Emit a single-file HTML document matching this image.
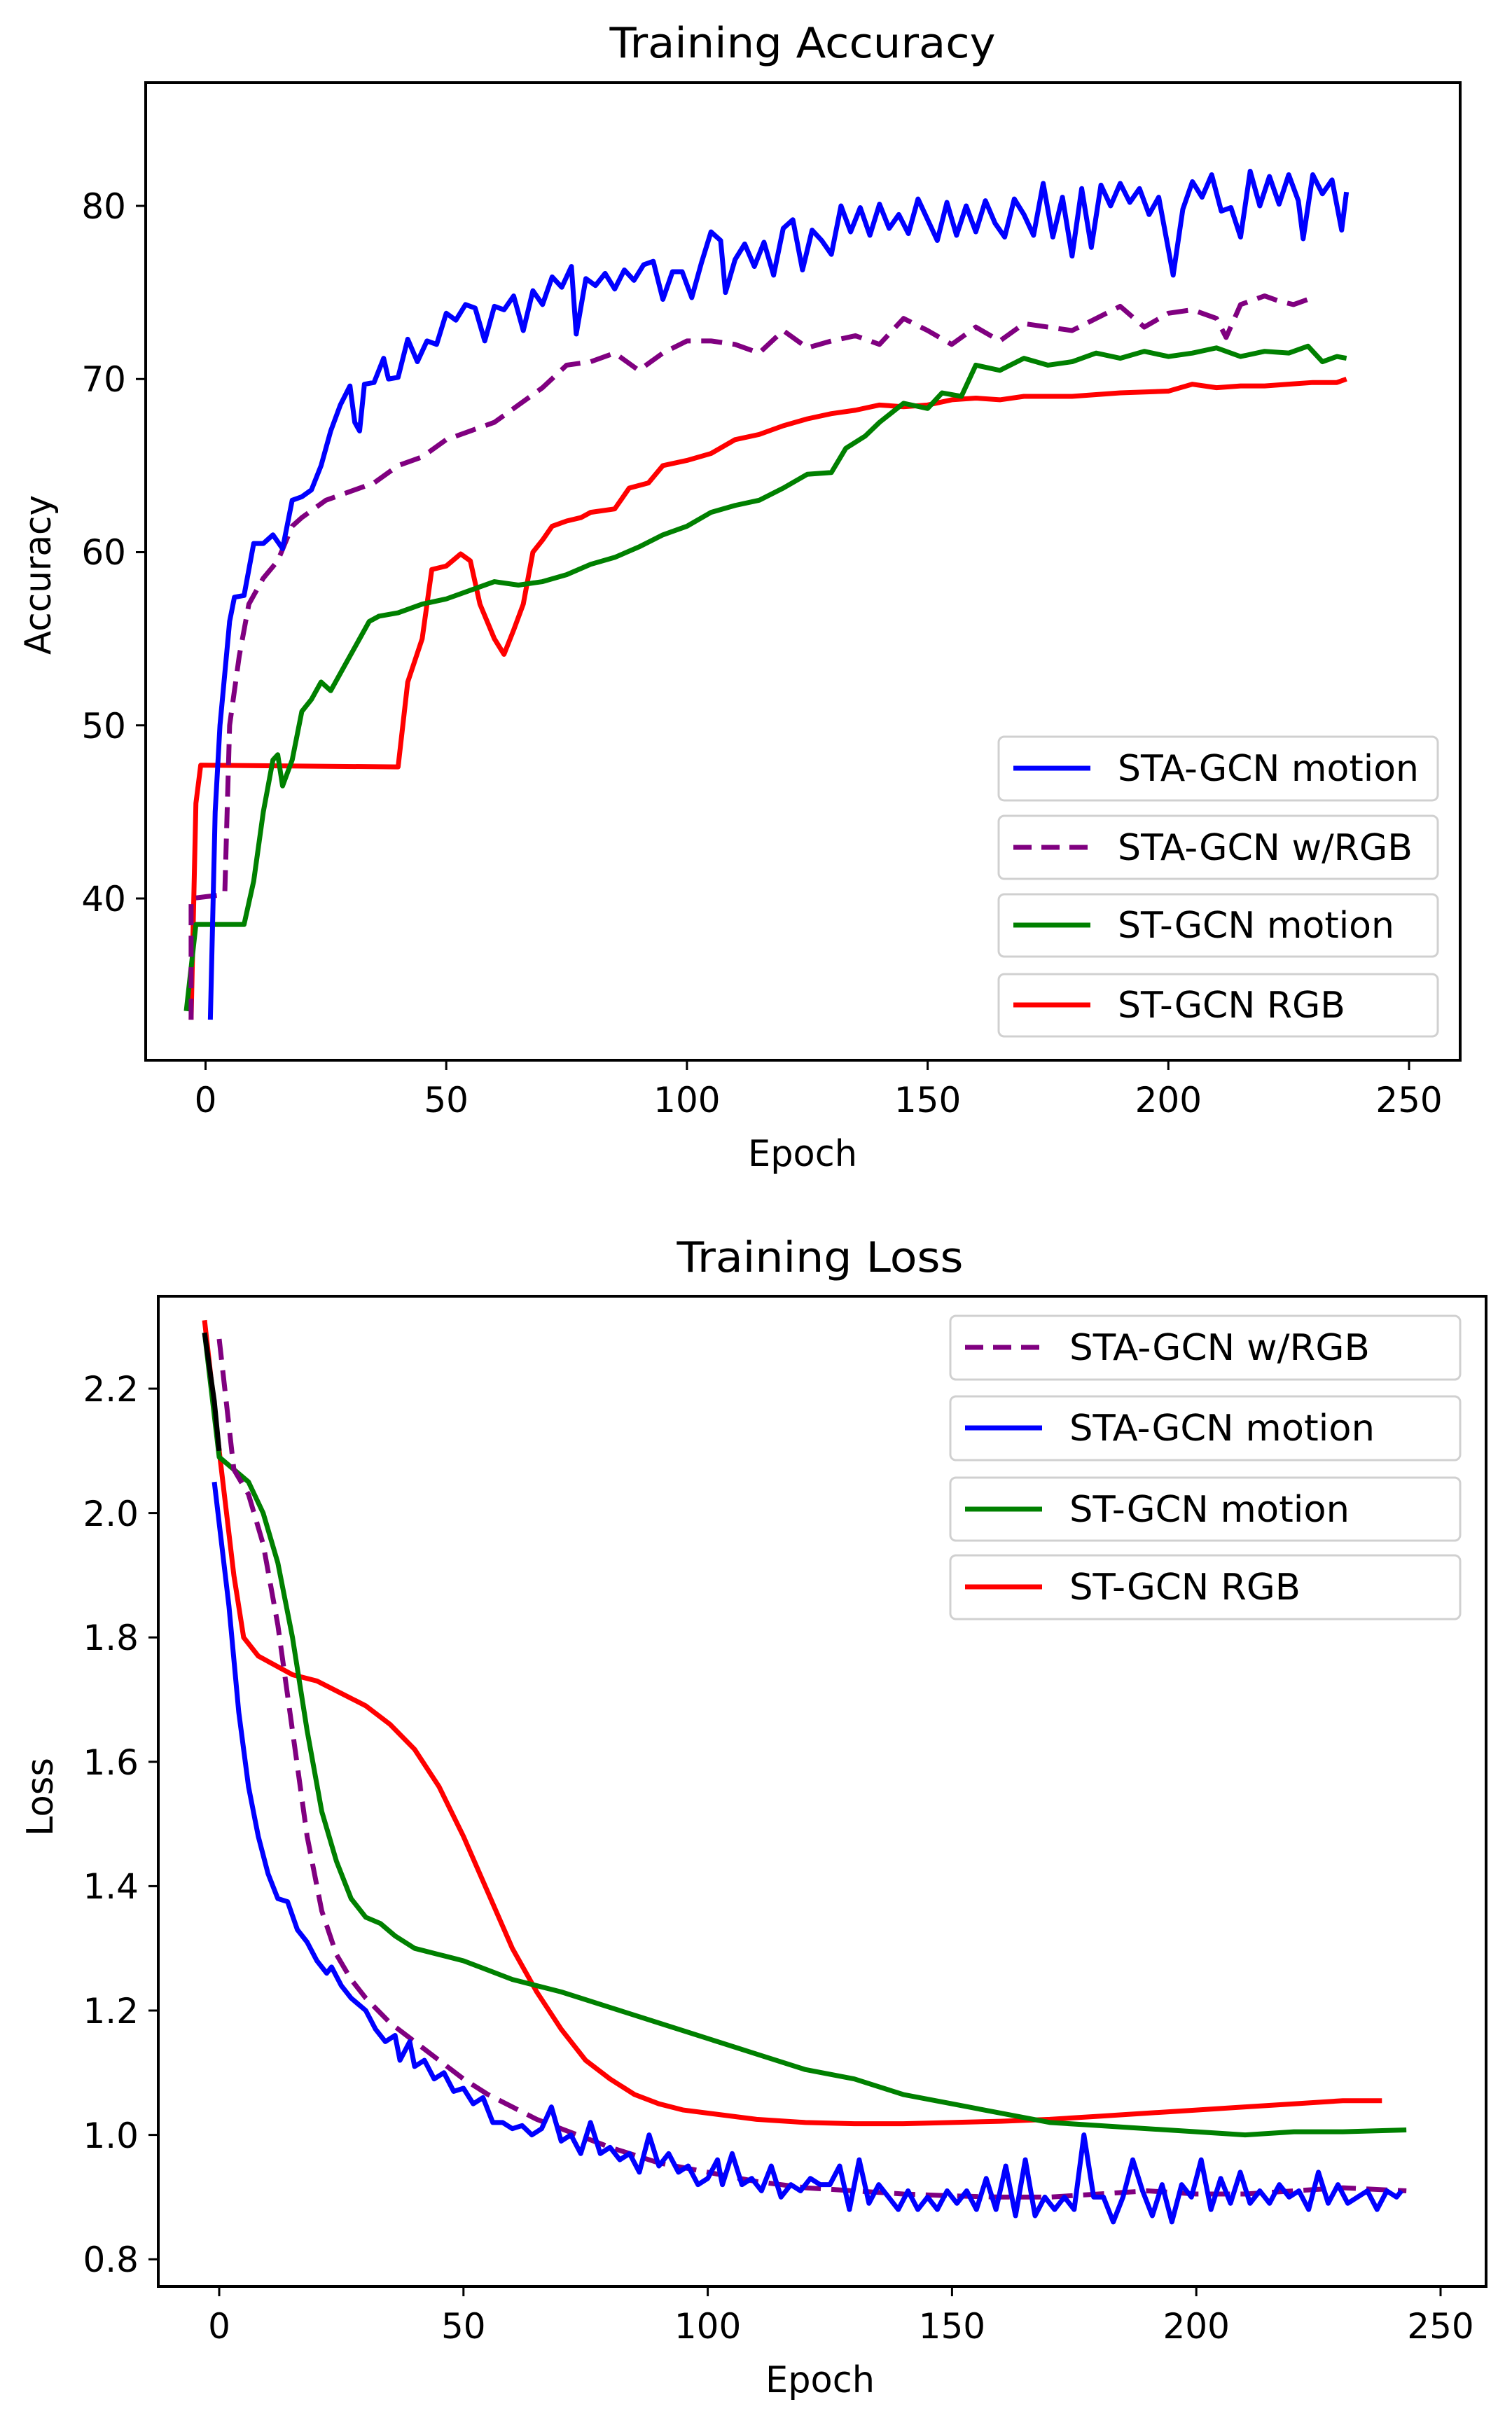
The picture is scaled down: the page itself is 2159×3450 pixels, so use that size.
<!DOCTYPE html>
<html><head><meta charset="utf-8"><style>html,body{margin:0;padding:0;background:#fff}svg{display:block}text{font-family:"DejaVu Sans","Liberation Sans",sans-serif;fill:#000}</style></head>
<body>
<svg width="2159" height="3450" viewBox="0 0 2159 3450" xmlns="http://www.w3.org/2000/svg">
<rect width="2159" height="3450" fill="#fff"/>
<!-- TOP CHART -->
<text x="1146" y="82" font-size="60" text-anchor="middle" textLength="551" lengthAdjust="spacingAndGlyphs">Training Accuracy</text>
<g fill="none" stroke-linejoin="round" stroke-linecap="butt">
<g transform="matrix(6.874 0 0 -24.725 293.5 2272)">
<polyline vector-effect="non-scaling-stroke" stroke="#ff0000" stroke-width="7" points="-3,33 -2,45.5 -1,47.7 40,47.6 42,52.5 45,55 47,59 50,59.2 53,59.9 55,59.5 57,57 60,55 62,54.1 64,55.5 66,57 68,60 70,60.7 72,61.5 75,61.8 78,62 80,62.3 85,62.5 88,63.7 92,64 95,65 100,65.3 105,65.7 110,66.5 115,66.8 120,67.3 125,67.7 130,68 135,68.2 140,68.5 145,68.4 150,68.5 155,68.8 160,68.9 165,68.8 170,69 180,69 190,69.2 200,69.3 205,69.7 210,69.5 215,69.6 220,69.6 225,69.7 230,69.8 235,69.8 237,70"/>
<polyline vector-effect="non-scaling-stroke" stroke="#008000" stroke-width="7" points="-4,33.5 -2,38.5 0,38.5 8,38.5 10,41 12,45 14,48 15,48.3 16,46.5 18,48 20,50.8 22,51.5 24,52.5 26,52 28,53 30,54 32,55 34,56 36,56.3 40,56.5 45,57 50,57.3 55,57.8 60,58.3 65,58.1 70,58.3 75,58.7 80,59.3 85,59.7 90,60.3 95,61 100,61.5 105,62.3 110,62.7 115,63 120,63.7 125,64.5 130,64.6 133,66 137,66.7 140,67.5 145,68.6 150,68.3 153,69.2 157,69 160,70.8 165,70.5 170,71.2 175,70.8 180,71 185,71.5 190,71.2 195,71.6 200,71.3 205,71.5 210,71.8 215,71.3 220,71.6 225,71.5 229,71.9 232,71 235,71.3 237,71.2"/>
<polyline vector-effect="non-scaling-stroke" stroke="#800080" stroke-width="7" stroke-dasharray="30 15" points="-3,33 -3,40 0,40.1 3,40.2 4,40.3 5,50 7,54 9,57 12,58.5 15,59.5 18,61.5 20,62 25,63 30,63.5 35,64 40,65 45,65.5 50,66.5 55,67 60,67.5 65,68.5 70,69.5 75,70.8 80,71 85,71.5 90,70.5 95,71.5 100,72.2 105,72.2 110,72 115,71.5 120,72.8 125,71.8 130,72.2 135,72.5 140,72 145,73.5 150,72.8 155,72 160,73 165,72.2 170,73.2 175,73 180,72.8 185,73.5 190,74.2 195,73 200,73.8 205,74 210,73.5 212,72.4 215,74.3 220,74.8 223,74.5 226,74.3 229,74.6"/>
<polyline vector-effect="non-scaling-stroke" stroke="#0000ff" stroke-width="7" points="1,33 2,45 3,50 4,53 5,56 6,57.4 8,57.5 10,60.5 12,60.5 14,61 16,60.2 18,63 20,63.2 22,63.6 24,65 26,67 28,68.5 30,69.6 31,67.5 32,67 33,69.7 35,69.8 37,71.2 38,70 40,70.1 42,72.3 44,71 46,72.2 48,72 50,73.8 52,73.4 54,74.3 56,74.1 58,72.2 60,74.2 62,74 64,74.8 66,72.8 68,75.1 70,74.3 72,75.9 74,75.3 76,76.5 77,72.6 79,75.8 81,75.4 83,76.1 85,75.2 87,76.3 89,75.7 91,76.6 93,76.8 95,74.6 97,76.2 99,76.2 101,74.7 103,76.7 105,78.5 107,78 108,75 110,76.9 112,77.8 114,76.5 116,77.9 118,76 120,78.7 122,79.2 124,76.3 126,78.6 128,78 130,77.2 132,80 134,78.5 136,79.9 138,78.3 140,80.1 142,78.7 144,79.5 146,78.4 148,80.4 150,79.2 152,78 154,80.2 156,78.3 158,80 160,78.5 162,80.3 164,79 166,78.2 168,80.4 170,79.5 172,78.3 174,81.3 176,78.2 178,80.5 180,77.1 182,81 184,77.6 186,81.2 188,80 190,81.3 192,80.2 194,81 196,79.5 198,80.5 200,77.5 201,76 203,79.8 205,81.4 207,80.5 209,81.8 211,79.7 213,79.9 215,78.2 217,82 219,80 221,81.7 223,80.1 225,81.8 227,80.3 228,78.1 230,81.8 232,80.7 234,81.5 236,78.6 237,80.8"/>
</g>
</g>
<rect x="208" y="118" width="1877" height="1396" fill="none" stroke="#000" stroke-width="4"/>
<g stroke="#000" stroke-width="3">
<line x1="293.5" y1="1514" x2="293.5" y2="1528"/><line x1="637.2" y1="1514" x2="637.2" y2="1528"/><line x1="980.9" y1="1514" x2="980.9" y2="1528"/><line x1="1324.6" y1="1514" x2="1324.6" y2="1528"/><line x1="1668.3" y1="1514" x2="1668.3" y2="1528"/><line x1="2012" y1="1514" x2="2012" y2="1528"/>
<line x1="194" y1="294" x2="208" y2="294"/><line x1="194" y1="541.25" x2="208" y2="541.25"/><line x1="194" y1="788.5" x2="208" y2="788.5"/><line x1="194" y1="1035.75" x2="208" y2="1035.75"/><line x1="194" y1="1283" x2="208" y2="1283"/>
</g>
<g font-size="50" text-anchor="middle">
<text x="293.5" y="1588">0</text><text x="637.2" y="1588">50</text><text x="980.9" y="1588">100</text><text x="1324.6" y="1588">150</text><text x="1668.3" y="1588">200</text><text x="2012" y="1588">250</text>
</g>
<g font-size="50" text-anchor="end">
<text x="180" y="312">80</text><text x="180" y="559">70</text><text x="180" y="806">60</text><text x="180" y="1054">50</text><text x="180" y="1301">40</text>
</g>
<text x="1146" y="1665" font-size="52" text-anchor="middle" textLength="156" lengthAdjust="spacingAndGlyphs">Epoch</text>
<text transform="translate(72,821) rotate(-90)" font-size="52" text-anchor="middle" textLength="228" lengthAdjust="spacingAndGlyphs">Accuracy</text>
<g fill="#fff" stroke="#d0d0d0" stroke-width="3">
<rect x="1426" y="1052" width="627" height="91" rx="8"/><rect x="1426" y="1165" width="627" height="90" rx="8"/><rect x="1426" y="1277" width="627" height="89" rx="8"/><rect x="1426" y="1391" width="627" height="89" rx="8"/>
</g>
<g stroke-width="7">
<line x1="1447" y1="1097" x2="1557" y2="1097" stroke="#0000ff"/>
<line x1="1447" y1="1210" x2="1557" y2="1210" stroke="#800080" stroke-dasharray="26 14"/>
<line x1="1447" y1="1321" x2="1557" y2="1321" stroke="#008000"/>
<line x1="1447" y1="1435" x2="1557" y2="1435" stroke="#ff0000"/>
</g>
<g font-size="52">
<text x="1596" y="1115" textLength="430" lengthAdjust="spacingAndGlyphs">STA-GCN motion</text>
<text x="1596" y="1228" textLength="421" lengthAdjust="spacingAndGlyphs">STA-GCN w/RGB</text>
<text x="1596" y="1339" textLength="395" lengthAdjust="spacingAndGlyphs">ST-GCN motion</text>
<text x="1596" y="1453" textLength="325" lengthAdjust="spacingAndGlyphs">ST-GCN RGB</text>
</g>

<!-- BOTTOM CHART -->
<text x="1171" y="1816" font-size="60" text-anchor="middle" textLength="409" lengthAdjust="spacingAndGlyphs">Training Loss</text>
<g fill="none" stroke-linejoin="round">
<g transform="matrix(6.976 0 0 -888 313 3936.6)">
<polyline vector-effect="non-scaling-stroke" stroke="#ff0000" stroke-width="7" points="-3,2.31 0,2.1 3,1.9 5,1.8 8,1.77 15,1.74 20,1.73 25,1.71 30,1.69 35,1.66 40,1.62 45,1.56 50,1.48 55,1.39 60,1.3 65,1.23 70,1.17 75,1.12 80,1.09 85,1.065 90,1.05 95,1.04 100,1.035 110,1.025 120,1.02 130,1.018 140,1.018 150,1.02 160,1.022 170,1.025 180,1.03 190,1.035 200,1.04 210,1.045 220,1.05 230,1.055 238,1.055"/>
<polyline vector-effect="non-scaling-stroke" stroke="#008000" stroke-width="7" points="-3,2.29 0,2.09 3,2.07 6,2.05 9,2 12,1.92 15,1.8 18,1.65 21,1.52 24,1.44 27,1.38 30,1.35 33,1.34 36,1.32 40,1.3 45,1.29 50,1.28 55,1.265 60,1.25 70,1.23 80,1.205 90,1.18 100,1.155 110,1.13 120,1.105 130,1.09 140,1.065 150,1.05 160,1.035 170,1.02 180,1.015 190,1.01 200,1.005 210,1 220,1.005 230,1.005 243,1.008"/>
<polyline vector-effect="non-scaling-stroke" stroke="#000" stroke-width="7" points="-3,2.29 -1,2.18 0,2.1"/>
<polyline vector-effect="non-scaling-stroke" stroke="#800080" stroke-width="7" stroke-dasharray="30 15" points="0,2.28 3,2.07 6,2.03 9,1.95 12,1.82 15,1.65 18,1.48 21,1.36 24,1.29 27,1.25 30,1.22 35,1.18 40,1.15 45,1.12 50,1.09 55,1.065 60,1.045 65,1.025 70,1.01 80,0.98 90,0.955 100,0.94 110,0.925 120,0.915 130,0.91 140,0.905 150,0.902 160,0.9 170,0.9 180,0.905 190,0.91 200,0.905 210,0.905 220,0.91 230,0.915 243,0.91"/>
<polyline vector-effect="non-scaling-stroke" stroke="#0000ff" stroke-width="7" points="-1,2.05 2,1.85 4,1.68 6,1.56 8,1.48 10,1.42 12,1.38 14,1.375 16,1.33 18,1.31 20,1.28 22,1.26 23,1.27 25,1.24 27,1.22 30,1.2 32,1.17 34,1.15 36,1.16 37,1.12 39,1.15 40,1.11 42,1.12 44,1.09 46,1.1 48,1.07 50,1.075 52,1.05 54,1.06 56,1.02 58,1.02 60,1.01 62,1.015 64,1 66,1.01 68,1.045 70,0.99 72,1 74,0.97 76,1.02 78,0.97 80,0.98 82,0.96 84,0.97 86,0.94 88,1 90,0.95 92,0.97 94,0.94 96,0.95 98,0.92 100,0.93 102,0.96 103,0.92 105,0.97 107,0.92 109,0.93 111,0.91 113,0.95 115,0.9 117,0.92 119,0.91 121,0.93 123,0.92 125,0.92 127,0.95 129,0.88 131,0.96 133,0.89 135,0.92 137,0.9 139,0.88 141,0.91 143,0.88 145,0.9 147,0.88 149,0.91 151,0.89 153,0.91 155,0.88 157,0.93 159,0.88 161,0.95 163,0.87 165,0.96 167,0.87 169,0.9 171,0.88 173,0.9 175,0.88 177,1 179,0.9 181,0.9 183,0.86 185,0.9 187,0.96 189,0.91 191,0.87 193,0.92 195,0.86 197,0.92 199,0.9 201,0.96 203,0.88 205,0.93 207,0.89 209,0.94 211,0.89 213,0.91 215,0.89 217,0.92 219,0.9 221,0.91 223,0.88 225,0.94 227,0.89 229,0.92 231,0.89 233,0.9 235,0.91 237,0.88 239,0.91 241,0.9 242,0.91"/>
</g>
</g>
<rect x="226" y="1851" width="1896" height="1414" fill="none" stroke="#000" stroke-width="4"/>
<g stroke="#000" stroke-width="3">
<line x1="313" y1="3265" x2="313" y2="3279"/><line x1="661.8" y1="3265" x2="661.8" y2="3279"/><line x1="1010.6" y1="3265" x2="1010.6" y2="3279"/><line x1="1359.4" y1="3265" x2="1359.4" y2="3279"/><line x1="1708.2" y1="3265" x2="1708.2" y2="3279"/><line x1="2057" y1="3265" x2="2057" y2="3279"/>
<line x1="212" y1="1983" x2="226" y2="1983"/><line x1="212" y1="2160.6" x2="226" y2="2160.6"/><line x1="212" y1="2338.2" x2="226" y2="2338.2"/><line x1="212" y1="2515.8" x2="226" y2="2515.8"/><line x1="212" y1="2693.4" x2="226" y2="2693.4"/><line x1="212" y1="2871" x2="226" y2="2871"/><line x1="212" y1="3048.6" x2="226" y2="3048.6"/><line x1="212" y1="3226.2" x2="226" y2="3226.2"/>
</g>
<g font-size="50" text-anchor="middle">
<text x="313" y="3339">0</text><text x="661.8" y="3339">50</text><text x="1010.6" y="3339">100</text><text x="1359.4" y="3339">150</text><text x="1708.2" y="3339">200</text><text x="2057" y="3339">250</text>
</g>
<g font-size="50" text-anchor="end">
<text x="198" y="2001">2.2</text><text x="198" y="2179">2.0</text><text x="198" y="2356">1.8</text><text x="198" y="2534">1.6</text><text x="198" y="2711">1.4</text><text x="198" y="2889">1.2</text><text x="198" y="3067">1.0</text><text x="198" y="3244">0.8</text>
</g>
<text x="1171" y="3416" font-size="52" text-anchor="middle" textLength="156" lengthAdjust="spacingAndGlyphs">Epoch</text>
<text transform="translate(75,2566) rotate(-90)" font-size="52" text-anchor="middle" textLength="112" lengthAdjust="spacingAndGlyphs">Loss</text>
<g fill="#fff" stroke="#d0d0d0" stroke-width="3">
<rect x="1357" y="1879" width="728" height="91" rx="8"/><rect x="1357" y="1994" width="728" height="91" rx="8"/><rect x="1357" y="2110" width="728" height="90" rx="8"/><rect x="1357" y="2221" width="728" height="91" rx="8"/>
</g>
<g stroke-width="7">
<line x1="1378" y1="1924" x2="1488" y2="1924" stroke="#800080" stroke-dasharray="26 14"/>
<line x1="1378" y1="2039" x2="1488" y2="2039" stroke="#0000ff"/>
<line x1="1378" y1="2155" x2="1488" y2="2155" stroke="#008000"/>
<line x1="1378" y1="2266" x2="1488" y2="2266" stroke="#ff0000"/>
</g>
<g font-size="52">
<text x="1527" y="1942" textLength="429" lengthAdjust="spacingAndGlyphs">STA-GCN w/RGB</text>
<text x="1527" y="2057" textLength="436" lengthAdjust="spacingAndGlyphs">STA-GCN motion</text>
<text x="1527" y="2173" textLength="400" lengthAdjust="spacingAndGlyphs">ST-GCN motion</text>
<text x="1527" y="2284" textLength="330" lengthAdjust="spacingAndGlyphs">ST-GCN RGB</text>
</g>
</svg>
</body></html>
